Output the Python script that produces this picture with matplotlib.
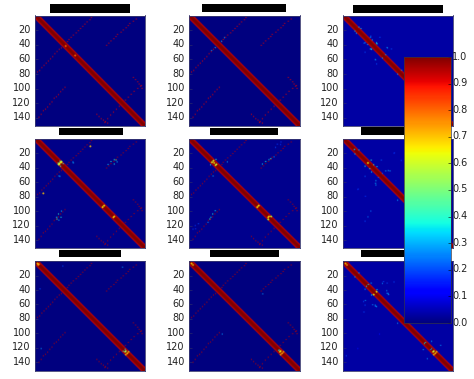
"""Nine similarity matrices sharing one jet colorbar (titles blacked out)."""

import numpy as np
import matplotlib
matplotlib.use("Agg")
from matplotlib import pyplot as plt
from matplotlib.patches import Rectangle
from matplotlib.transforms import ScaledTranslation

W, H = 474, 379
N = 152

y_ticks = [20, 40, 60, 80, 100, 120, 140]
cbar_ticks = [0.0, 0.1, 0.2, 0.3, 0.4, 0.5, 0.6, 0.7, 0.8, 0.9, 1.0]

# main diagonal band, value by distance from the diagonal
band_offsets = [0, 1, 2, 3, 4, 5]
band_values = [1.0, 1.0, 1.0, 0.98, 0.96, 0.92]

# faint lines running across the matrix, upper half only (mirrored later)
trace_rows = [3, 6, 9, 12, 15, 18, 21, 24, 27, 30, 33, 36,
              5, 8, 11, 14, 17, 20, 23, 26, 29, 32, 35, 38, 41,
              96, 100, 104, 108, 112, 116,
              85, 88, 91, 94, 97, 100]
trace_cols = [77, 75, 71, 68, 65, 62, 59, 56, 52, 49, 46, 44,
              139, 135, 130, 128, 125, 121, 118, 113, 111, 108, 104, 101, 98,
              146, 141, 136, 132, 128, 124,
              135, 138, 141, 143, 145, 147]

# bright cells (row, col, value) for each panel, mirrored later
spots_a = [(42, 42, 0.8), (55, 55, 0.8)]
spots_b = [(35, 44, 0.3), (30, 48, 0.28)]
spots_c = [(21, 16, 0.32), (24, 18, 0.3), (37, 46, 0.38), (37, 30, 0.28), (46, 39, 0.38),
           (60, 44, 0.28), (44, 61, 0.28), (58, 54, 0.28), (80, 75, 0.28), (33, 40, 0.28),
           (50, 30, 0.2), (66, 46, 0.2), (28, 38, 0.22)]
spots_d = [(34, 34, 0.68), (33, 36, 0.6), (36, 32, 0.6), (31, 34, 0.38), (38, 35, 0.38),
           (29, 109, 0.38), (35, 109, 0.38), (32, 113, 0.32), (32, 52, 0.28),
           (52, 34, 0.3), (76, 11, 0.7), (93, 95, 0.65), (108, 109, 0.68),
           (104, 32, 0.4), (111, 30, 0.4), (100, 36, 0.32)]
spots_e = [(34, 34, 0.68), (31, 33, 0.6), (37, 36, 0.6), (36, 29, 0.4), (32, 52, 0.3),
           (29, 109, 0.35), (35, 100, 0.35), (25, 116, 0.28), (12, 118, 0.2), (8, 125, 0.18),
           (104, 32, 0.38), (111, 28, 0.4), (93, 95, 0.65), (108, 109, 0.68), (112, 108, 0.6),
           (125, 5, 0.18), (120, 8, 0.18)]
spots_f = [(15, 15, 0.32), (21, 16, 0.32), (34, 34, 0.65), (38, 30, 0.4), (36, 42, 0.4),
           (46, 39, 0.35), (44, 62, 0.3), (58, 45, 0.3), (64, 45, 0.3), (52, 30, 0.22),
           (48, 54, 0.22), (70, 20, 0.18), (100, 38, 0.25), (108, 34, 0.25), (114, 30, 0.2),
           (85, 75, 0.3), (30, 80, 0.18), (20, 70, 0.18)]
spots_g = [(3, 3, 0.7), (4, 5, 0.75), (124, 125, 0.55), (127, 127, 0.7), (125, 129, 0.72),
           (121, 124, 0.38), (6, 38, 0.2), (120, 8, 0.28)]
spots_h = [(3, 3, 0.68), (5, 5, 0.72), (124, 125, 0.65), (127, 127, 0.72), (125, 129, 0.75),
           (122, 123, 0.38), (100, 45, 0.28)]
spots_i = [(3, 3, 0.7), (5, 5, 0.75), (21, 16, 0.3), (34, 32, 0.35), (38, 30, 0.3),
           (42, 46, 0.65), (40, 60, 0.28), (30, 54, 0.28), (28, 70, 0.2), (46, 39, 0.35),
           (60, 44, 0.28), (62, 46, 0.28), (44, 62, 0.28), (55, 28, 0.2), (60, 30, 0.2),
           (85, 75, 0.28), (100, 50, 0.14), (113, 112, 0.35), (120, 122, 0.3), (110, 122, 0.3),
           (124, 125, 0.6), (127, 127, 0.7), (125, 129, 0.72), (134, 116, 0.28), (130, 4, 0.2),
           (120, 20, 0.14)]

panel_spots = [spots_a, spots_b, spots_c, spots_d, spots_e, spots_f, spots_g, spots_h, spots_i]
panel_background = [0.0, 0.0, 0.035, 0.01, 0.015, 0.035, 0.0, 0.0, 0.035]
panel_trace = [0.92, 0.92, 0.0, 0.95, 0.95, 0.0, 0.95, 0.95, 0.0]

# pixel boxes of the panels (left, top, right, bottom)
col_edges = [(35, 145), (189, 299.5), (343, 453)]
row_edges = [(15.5, 126), (138.7, 248.3), (260.7, 370.7)]

# black bars over the titles (left, top, right, bottom in pixels)
title_bars = [(50, 4, 130, 13), (202, 4, 286, 12), (353, 5, 443, 13),
              (59, 128, 123, 135), (210, 128, 278, 135), (361, 127, 430, 135),
              (59, 250, 121, 257), (210, 250, 279, 257), (361, 250, 430, 257)]


def build_matrix(idx):
    m = np.full((N, N), panel_background[idx])
    for off, val in zip(band_offsets, band_values):
        i = np.arange(N - off)
        m[i, i + off] = val
        m[i + off, i] = val
    if panel_trace[idx] > 0:
        for r, c in zip(trace_rows, trace_cols):
            # two cells each, a single one is almost lost when scaled down
            m[r, c] = m[r, c + 1] = panel_trace[idx]
            m[c, r] = m[c + 1, r] = panel_trace[idx]
    for r, c, v in panel_spots[idx]:
        cells = [(0, 0), (1, 0)]
        if v >= 0.5:
            cells = [(0, 0), (1, 0), (-1, 0), (0, 1), (0, -1)]
        for dr, dc in cells:
            m[r + dr, c + dc] = v
            m[c + dc, r + dr] = v
    return m


def box(left, top, right, bottom):
    return [left / W, 1 - bottom / H, (right - left) / W, (bottom - top) / H]


fig = plt.figure(figsize=(W / 100, H / 100), dpi=100, facecolor="white")
label_shift = ScaledTranslation(0, 1.5 / 100, fig.dpi_scale_trans)

im = None
for idx in range(9):
    left, right = col_edges[idx % 3]
    top, bottom = row_edges[idx // 3]
    ax = fig.add_axes(box(left, top, right, bottom))
    im = ax.imshow(build_matrix(idx), cmap="jet", vmin=0, vmax=1, aspect="auto",
                   interpolation="gaussian", interpolation_stage="rgba")
    ax.set_xticks([])
    ax.set_yticks(y_ticks)
    ax.tick_params(axis="y", labelsize=7, length=2, width=0.4, direction="in",
                   pad=3, labelcolor="#222222", color="#333366")
    for lab in ax.get_yticklabels():
        lab.set_transform(lab.get_transform() + label_shift)
    for sp in ax.spines.values():
        sp.set_color("#3a3a70")
        sp.set_linewidth(0.6)

for l, t, r, b in title_bars:
    fig.add_artist(Rectangle((l / W, 1 - b / H), (r - l) / W, (b - t) / H,
                             transform=fig.transFigure, facecolor="black",
                             edgecolor="none", zorder=2))

cax = fig.add_axes(box(404, 57, 451, 323), zorder=5)
cbar = fig.colorbar(im, cax=cax)
cbar.set_ticks(cbar_ticks)
cbar.ax.tick_params(labelsize=7, length=2, width=0.4, direction="in", pad=1, labelcolor="#222222")
for lab in cbar.ax.get_yticklabels():
    lab.set_transform(lab.get_transform() + label_shift)
cbar.outline.set_linewidth(0.5)
cbar.outline.set_edgecolor("#333344")

fig.savefig("out.png", dpi=100, facecolor="white")
